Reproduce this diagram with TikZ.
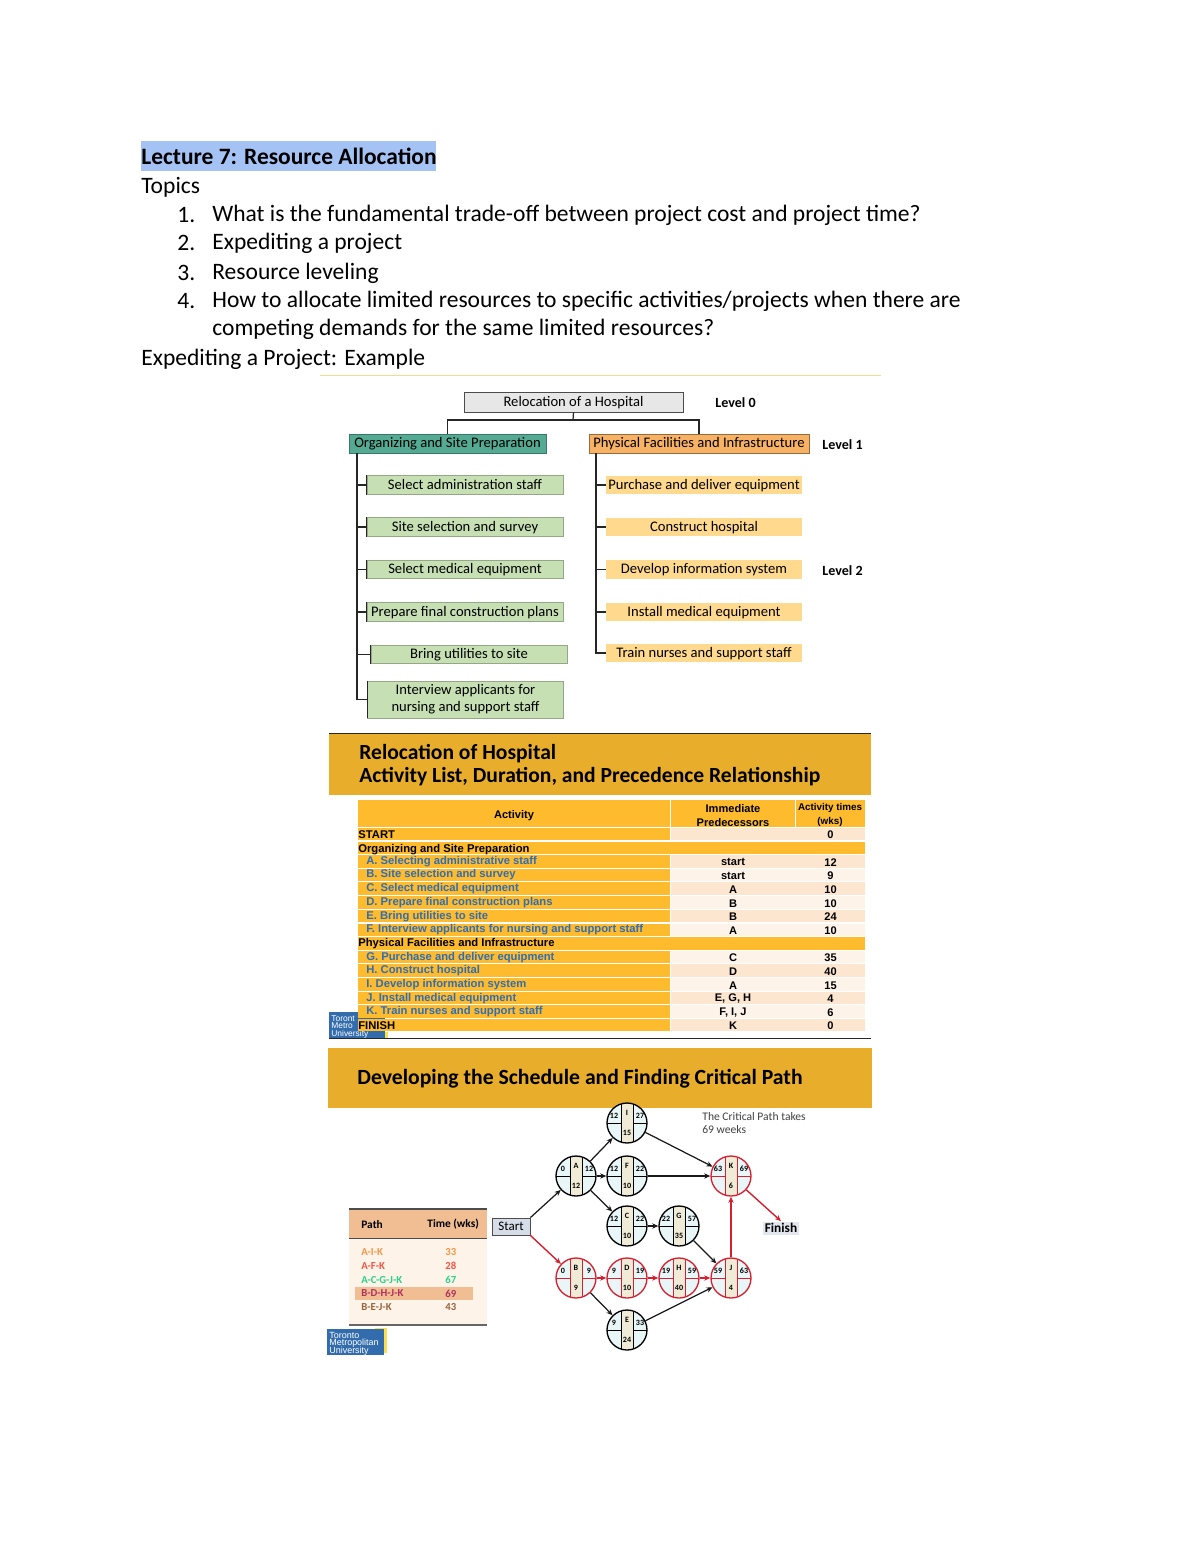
\documentclass[tikz,border=0pt]{standalone}
\usepackage{fontspec}
\setmainfont{Carlito}
\newfontfamily\arialfont{Liberation Sans}
\usepackage{tikz}
\usetikzlibrary{
	arrows.meta,
	calc,
	positioning
}
\definecolor{HiBlue}{RGB}{164,194,244}
\definecolor{RuleTan}{RGB}{245,218,150}
\definecolor{RootGray}{RGB}{231,231,231}
\definecolor{OrgTeal}{RGB}{84,170,146}
\definecolor{PhysOrange}{RGB}{248,178,102}
\definecolor{LeafGreen}{RGB}{198,224,180}
\definecolor{LeafYellow}{RGB}{255,217,142}
\definecolor{BandGold}{RGB}{232,174,43}
\definecolor{RowGold}{RGB}{254,187,45}
\definecolor{RowPeach}{RGB}{252,230,208}
\definecolor{RowCream}{RGB}{254,243,232}
\definecolor{ActBlue}{RGB}{47,110,181}
\definecolor{CircleIce}{RGB}{232,246,248}
\definecolor{StemCream}{RGB}{239,235,214}
\definecolor{CritRed}{RGB}{214,32,48}
\definecolor{LogoBlue}{RGB}{50,108,172}
\definecolor{LogoYellow}{RGB}{250,224,80}
\definecolor{PathHead}{RGB}{240,190,146}
\definecolor{BoxSlate}{RGB}{214,220,232}
\definecolor{PathOrange}{RGB}{245,150,70}
\definecolor{PathRed}{RGB}{245,85,70}
\definecolor{PathGreen}{RGB}{40,210,140}
\definecolor{PathPlum}{RGB}{176,48,96}
\definecolor{PathBrown}{RGB}{150,100,60}

\tikzset{
	bodytext/.style={anchor=west, inner sep=0pt, yshift=-0.8pt, font=\fontsize{13.4}{16}\selectfont},
	wbstext/.style={font=\fontsize{8.3}{9.6}\selectfont, align=center, inner sep=0pt},
	oneline/.style={text height=5.4pt, text depth=0.6pt},
	wbsline/.style={line width=0.7pt, black!85},
	levelmark/.style={anchor=west, inner sep=0pt, font=\bfseries\fontsize{8}{9}\selectfont},
	leftleaf/.style={wbstext, fill=LeafGreen, draw=LeafGreen!75!black, line width=0.4pt, minimum width=3.92cm, minimum height=0.37cm},
	rightleaf/.style={wbstext, fill=LeafYellow, minimum width=3.92cm, minimum height=0.37cm},
	bandtitle/.style={anchor=west, inner sep=0pt, align=left, font=\bfseries\fontsize{12.35}{13.2}\selectfont},
	rowtext/.style={anchor=west, inner sep=0pt, yshift=-0.5pt, font=\arialfont\bfseries\fontsize{6.4}{7}\selectfont},
	celltext/.style={inner sep=0pt, yshift=-0.5pt, font=\arialfont\bfseries\fontsize{6.3}{7.8}\selectfont},
	logotext/.style={anchor=west, inner sep=0pt, white, font=\arialfont\fontsize{4.8}{4.8}\selectfont},
	actcircle/.style={circle, minimum size=0.8cm, inner sep=0pt, fill=CircleIce, line width=0.75pt,
		path picture={
			\fill[StemCream] (-6,-21) rectangle (6,21);
			\draw[line width=0.5pt] (-6,-21) -- (-6,21) (6,-21) -- (6,21) (-21,0) -- (-6,0) (6,0) -- (21,0);
		}},
	actlabel/.style={inner sep=0pt, font=\bfseries\fontsize{4.6}{5}\selectfont},
	actlink/.style={-{Stealth[length=3.5pt,width=3pt]}, line width=0.7pt, black!90},
	critlink/.style={-{Stealth[length=3.5pt,width=3pt]}, line width=0.8pt, CritRed},
	pathrow/.style={anchor=west, inner sep=0pt, font=\bfseries\fontsize{6.1}{7}\selectfont}
}

% node name, position, early start, letter, early finish, duration, rim colour
\newcommand{\actnode}[7]{
	\node[actcircle, draw=#7] (#1) at (#2) {};
	\node[actlabel] (#1es) at ($(#1)+(-13,-7)$) {#3};
	\node[actlabel] (#1tag) at ($(#1)+(0,-10)$) {#4};
	\node[actlabel] (#1ef) at ($(#1)+(13,-7)$) {#5};
	\node[actlabel] (#1dur) at ($(#1)+(0,10)$) {#6};
}

\begin{document}
\begin{tikzpicture}[x=0.02cm, y=-0.02cm]
	\useasboundingbox (0,0) rectangle (1200,1553);

	% heading and topics
	\fill[HiBlue] (141,141) rectangle (436,171);
	\node[bodytext, font=\bfseries\fontsize{13.35}{16}\selectfont] (lecture) at (141,154.5) {Lecture 7: Resource Allocation};
	\node[bodytext] (topics) at (141,186) {Topics};
	\foreach \i/\liney/\linetext in {
		1/214/{What is the fundamental trade-off between project cost and project time?},
		2/242/{Expediting a project},
		3/272/{Resource leveling},
		4/300/{How to allocate limited resources to specific activities/projects when there are}}
	{
		\node[bodytext] (num\i) at (177,\liney) {\i.};
		\node[bodytext] (topic\i) at (212,\liney) {\linetext};
	}
	\node[bodytext] (topic4b) at (212,328) {competing demands for the same limited resources?};
	\node[bodytext] (example) at (141,358) {Expediting a Project: Example};
	\draw[RuleTan, line width=0.5pt] (320,375) -- (881,375);

	% work breakdown tree
	\node[wbstext, oneline, fill=RootGray, draw=black!70, line width=0.5pt, minimum width=4.38cm, minimum height=0.4cm] (root) at (573.5,402) {Relocation of a Hospital};
	\node[wbstext, oneline, fill=OrgTeal, draw=OrgTeal!70!black, line width=0.5pt, minimum width=3.94cm, minimum height=0.38cm] (org) at (447.5,443.5) {Organizing and Site Preparation};
	\node[wbstext, oneline, fill=PhysOrange, draw=PhysOrange!60!black, line width=0.5pt, minimum width=4.4cm, minimum height=0.38cm] (phys) at (699,443.5) {Physical Facilities and Infrastructure};
	\node[levelmark] (lev0) at (715,403) {Level 0};
	\node[levelmark] (lev1) at (822,445) {Level 1};
	\node[levelmark] (lev2) at (822,571) {Level 2};
	\coordinate (split) at (573,420);
	\draw[wbsline] (root.south) -- (split);
	\draw[wbsline] (org.north) |- (split) -| (phys.north);

	\coordinate (orgstem) at (357,453);
	\coordinate (physstem) at (596,453);
	\foreach \i/\leafx/\leafy/\leaftext in {
		1/465/485/{Select administration staff},
		2/465/527/{Site selection and survey},
		3/465/569.5/{Select medical equipment},
		4/465/612/{Prepare final construction plans},
		5/469/654.5/{Bring utilities to site}}
	{
		\node[leftleaf, oneline] (orgleaf\i) at (\leafx,\leafy) {\leaftext};
		\draw[wbsline] (orgstem) |- (orgleaf\i.west);
		\draw[wbsline] (orgleaf\i.north west) -- (orgleaf\i.south west);
	}
	\node[leftleaf, minimum height=0.74cm] (orgleaf6) at (465.5,699.5) {\raisebox{-1pt}{Interview applicants for}\\\raisebox{-1pt}{nursing and support staff}};
	\draw[wbsline] (orgstem) |- (orgleaf6.west);
	\draw[wbsline] (orgleaf6.north west) -- (orgleaf6.south west);
	\foreach \i/\leafy/\leaftext in {
		1/485/{Purchase and deliver equipment},
		2/527/{Construct hospital},
		3/569.5/{Develop information system},
		4/612/{Install medical equipment},
		5/653/{Train nurses and support staff}}
	{
		\node[rightleaf, oneline] (physleaf\i) at (704,\leafy) {\leaftext};
		\draw[wbsline] (physstem) |- (physleaf\i.west);
	}

	% activity list slide
	\fill[LogoBlue] (329,1012) rectangle (385,1039);
	\fill[LogoYellow] (385,1032) rectangle (388,1039);
	\node[logotext] (logoa1) at (331,1018.5) {Toront};
	\node[logotext] (logoa2) at (331,1026) {Metro};
	\node[logotext] (logoa3) at (331,1034) {University};
	\fill[BandGold] (329,734) rectangle (871,795);
	\draw[black!85, line width=0.6pt] (329,733.5) -- (871,733.5);
	\node[bandtitle, font=\bfseries\fontsize{12.28}{13.2}\selectfont] (listtitle) at (359,765) {Relocation of Hospital\\Activity List, Duration, and Precedence Relationship};
	\fill[RowGold] (358,800) rectangle (669.5,827);
	\fill[RowGold] (670.5,800) rectangle (794.5,827);
	\fill[RowGold] (795.5,800) rectangle (865,827);
	\node[celltext] (headact) at (514,815) {Activity};
	\node[celltext, align=center] (headpred) at (733,815) {Immediate\\Predecessors};
	\node[celltext, align=center, font=\arialfont\bfseries\fontsize{5.6}{7.8}\selectfont] (headtime) at (830,814) {Activity times\\(wks)};
	\foreach \i/\rowy/\rowfill/\pred/\wks in {
		1/834/RowPeach/{}/0,
		2/861.5/RowPeach/start/12,
		3/875/RowCream/start/9,
		4/888.5/RowPeach/A/10,
		5/902.5/RowCream/B/10,
		6/916/RowPeach/B/24,
		7/930/RowCream/A/10,
		8/957/RowCream/C/35,
		9/970.5/RowPeach/D/40,
		10/984.5/RowCream/A/15,
		11/998/RowPeach/{E, G, H}/4,
		12/1011.5/RowCream/{F, I, J}/6,
		13/1025/RowPeach/K/0}
	{
		\fill[RowGold] (358,\rowy-6.3) rectangle (670,\rowy+6.3);
		\fill[\rowfill] (671,\rowy-6.3) rectangle (865,\rowy+6.3);
		\node[celltext] (pred\i) at (733,\rowy) {\pred};
		\node[celltext] (wks\i) at (830.5,\rowy) {\wks};
	}
	\fill[RowGold] (358,842) rectangle (865,854);
	\fill[RowGold] (358,937) rectangle (865,949.5);
	\node[rowtext] (startrow) at (358,834) {START};
	\node[rowtext] (orgrow) at (358,848.5) {Organizing and Site Preparation};
	\node[rowtext] (physrow) at (358,943) {Physical Facilities and Infrastructure};
	\node[rowtext] (finishrow) at (358,1025) {FINISH};
	\foreach \i/\rowy/\rowname in {
		1/861/{A. Selecting administrative staff},
		2/874/{B. Site selection and survey},
		3/888/{C. Select medical equipment},
		4/902/{D. Prepare final construction plans},
		5/916/{E. Bring utilities to site},
		6/929/{F. Interview applicants for nursing and support staff},
		7/956.5/{G. Purchase and deliver equipment},
		8/970/{H. Construct hospital},
		9/984/{I. Develop information system},
		10/997.5/{J. Install medical equipment},
		11/1011/{K. Train nurses and support staff}}
	{
		\node[rowtext, ActBlue] (actrow\i) at (366,\rowy) {\rowname};
	}
	\draw[black!85, line width=0.6pt] (329,1038.5) -- (871,1038.5);

	% schedule slide
	\fill[BandGold] (328,1048) rectangle (872,1108);
	\node[bandtitle] (schedtitle) at (357,1079) {Developing the Schedule and Finding Critical Path};
	\node[anchor=west, inner sep=0pt, align=left, black!75, font=\fontsize{6.6}{7.5}\selectfont] (critnote) at (702,1123) {The Critical Path takes\\69 weeks};

	% path table
	\fill[RowCream] (349,1238) rectangle (487,1325);
	\fill[PathHead] (349,1209) rectangle (487,1238);
	\draw[black!70, line width=0.6pt] (349,1209) -- (487,1209) (349,1238.5) -- (487,1238.5);
	\draw[black!60, line width=0.6pt] (349,1325) -- (487,1325);
	\node[pathrow, font=\bfseries\fontsize{6.5}{7}\selectfont] (pathhead) at (361,1224.5) {Path};
	\node[pathrow, font=\bfseries\fontsize{6.5}{7}\selectfont] (timehead) at (427,1224.5) {Time (wks)};
	\fill[PathHead] (355,1287) rectangle (473,1300);
	\foreach \i/\rowy/\pathname/\pathwks/\pathcolor in {
		1/1252/A-I-K/33/PathOrange,
		2/1266/A-F-K/28/PathRed,
		3/1280/A-C-G-J-K/67/PathGreen,
		4/1293.5/B-D-H-J-K/69/PathPlum,
		5/1307/B-E-J-K/43/PathBrown}
	{
		\node[pathrow, text=\pathcolor] (pathname\i) at (361,\rowy) {\pathname};
		\node[pathrow, text=\pathcolor] (pathwks\i) at (445,\rowy) {\pathwks};
	}
	\fill[LogoYellow] (375,1328) rectangle (387,1353);
	\fill[LogoBlue] (327,1329) rectangle (384,1355);
	\foreach \i/\liney/\linetext in {1/1335/Toronto, 2/1342.5/Metropolitan, 3/1350/University}
	{
		\node[logotext, font=\arialfont\fontsize{5.1}{5.1}\selectfont, text height=3.6pt, text depth=0pt] (logob\i) at (329,\liney) {\linetext};
	}

	% network
	\node[draw=black!70, fill=BoxSlate, line width=0.5pt, inner sep=0pt, minimum width=0.76cm, minimum height=0.34cm, font=\fontsize{7.4}{9}\selectfont] (start) at (511,1226.5) {Start};
	\node[fill=BoxSlate!70, inner sep=1pt, font=\bfseries\fontsize{7.6}{9}\selectfont] (finish) at (781,1228) {Finish};
	\actnode{I}{627,1123}{12}{I}{27}{15}{black}
	\actnode{A}{576,1176}{0}{A}{12}{12}{black}
	\actnode{F}{627,1176}{12}{F}{22}{10}{black}
	\actnode{K}{731,1176}{63}{K}{69}{6}{CritRed}
	\actnode{C}{627,1226}{12}{C}{22}{10}{black}
	\actnode{G}{679,1226}{22}{G}{57}{35}{black}
	\actnode{B}{576,1278}{0}{B}{9}{9}{CritRed}
	\actnode{D}{627,1278}{9}{D}{19}{10}{CritRed}
	\actnode{H}{679,1278}{19}{H}{59}{40}{CritRed}
	\actnode{J}{731,1278}{59}{J}{63}{4}{CritRed}
	\actnode{E}{627,1330}{9}{E}{33}{24}{black}
	\draw[actlink] (start.north east) -- (A);
	\draw[actlink] (A) -- (I);
	\draw[actlink] (A) -- (F);
	\draw[actlink] (A) -- (C);
	\draw[actlink] (I) -- (K);
	\draw[actlink] (F) -- (K);
	\draw[actlink] (C) -- (G);
	\draw[actlink] (G) -- (J);
	\draw[actlink] (B) -- (E);
	\draw[actlink] (E) -- (J);
	\draw[critlink] (start.south east) -- (B);
	\draw[critlink] (B) -- (D);
	\draw[critlink] (D) -- (H);
	\draw[critlink] (H) -- (J);
	\draw[critlink] (J) -- (K);
	\draw[critlink] (K) -- (finish.north);
\end{tikzpicture}
\end{document}
